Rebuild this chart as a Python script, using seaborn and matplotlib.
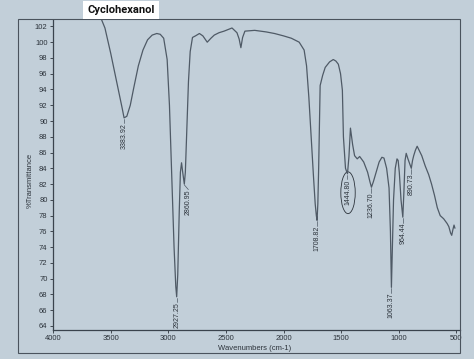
import matplotlib
matplotlib.use("Agg")
import matplotlib.pyplot as plt
from matplotlib.patches import Ellipse, Rectangle
import seaborn as sns
import pandas as pd

# ---- data, rows of 10 kept aligned ----
wavenumber = [
    3600, 3550, 3500, 3460, 3420, 3400, 3383.92, 3360, 3330, 3300,
    3260, 3220, 3180, 3140, 3100, 3070, 3040, 3010, 2990, 2970,
    2950, 2935, 2927.25, 2918, 2905, 2895, 2885, 2875, 2860.95, 2852,
    2840, 2825, 2810, 2790, 2764, 2730, 2700, 2662, 2630, 2601,
    2560, 2516, 2447, 2404, 2385, 2370, 2355, 2335, 2250, 2150,
    2078, 2000, 1932, 1864, 1821, 1800, 1780, 1760, 1740, 1725,
    1715, 1708.82, 1702, 1695, 1688, 1682, 1660, 1638, 1600, 1568,
    1545, 1524, 1505, 1489, 1480, 1462, 1444.80, 1432, 1419, 1400,
    1383, 1360, 1339, 1304, 1270, 1250, 1236.70, 1220, 1198, 1170,
    1146, 1128, 1105, 1084, 1072, 1063.37, 1055, 1045, 1030, 1015,
    1005, 995, 980, 964.44, 955, 945, 935, 920, 905, 890.73,
    880, 870, 855, 840, 800, 770, 740, 715, 690, 665,
    640, 610, 595, 580, 565, 550, 540, 530, 520, 512,
]
transmittance = [
    103.6, 101.8, 98.6, 95.8, 93.0, 91.6, 90.4, 90.6, 92.0, 94.2,
    97.0, 99.0, 100.3, 100.9, 101.1, 101.0, 100.5, 97.8, 92.0, 83.0,
    74.0, 69.0, 67.7, 70.5, 78.5, 83.5, 84.7, 83.5, 82.0, 83.5,
    88.5, 95.0, 98.8, 100.6, 100.8, 101.1, 100.8, 100.0, 100.5, 100.9,
    101.2, 101.4, 101.8, 101.2, 100.4, 99.3, 100.6, 101.4, 101.5, 101.3,
    101.1, 100.8, 100.5, 100.0, 99.0, 97.0, 93.0, 88.0, 83.0, 79.5,
    78.0, 77.4, 79.5, 84.0, 90.0, 94.5, 95.8, 96.8, 97.5, 97.8,
    97.6, 97.2, 96.0, 93.9, 88.0, 84.0, 83.3, 85.5, 89.1, 87.0,
    85.6, 85.2, 85.5, 84.8, 83.5, 82.3, 81.6, 82.3, 83.4, 84.8,
    85.4, 85.3, 84.0, 81.5, 76.0, 68.9, 74.0, 80.0, 84.0, 85.2,
    85.0, 83.5, 80.0, 77.8, 81.0, 85.0, 85.9, 85.2, 84.6, 84.0,
    85.0, 85.6, 86.3, 86.8, 85.6, 84.3, 83.2, 82.0, 80.6, 79.0,
    78.0, 77.6, 77.3, 77.0, 76.6, 75.8, 75.5, 76.2, 76.8, 76.4,
]

peak_positions = [3383.92, 2927.25, 2860.95, 1708.82, 1444.80, 1236.70, 1063.37, 964.44, 890.73]
peak_values = [90.4, 67.7, 82.0, 77.4, 83.3, 81.6, 68.9, 77.8, 84.0]
peak_labels = ["3383.92", "2927.25", "2860.95", "1708.82", "1444.80", "1236.70",
               "1063.37", "964.44", "890.73"]
label_shift = [0, 0, -35, 0, 0, 0, 0, 0, 0]

x_ticks = [4000, 3500, 3000, 2500, 2000, 1500, 1000, 500]
y_ticks = list(range(64, 103, 2))

title_text = "Cyclohexanol"
x_label = "Wavenumbers (cm-1)"
y_label = "%Transmittance"

# ---- style ----
bg = "#c2cfd9"
line_col = "#4f5a66"
text_col = "#2c333b"

sns.set_theme(style="ticks")
plt.rcParams["font.family"] = ["Liberation Sans", "DejaVu Sans"]

fig = plt.figure(figsize=(4.74, 3.59), dpi=100, facecolor=bg)
ax = fig.add_axes([0.112, 0.081, 0.858, 0.863])
ax.set_facecolor(bg)

df = pd.DataFrame({"wn": wavenumber, "T": transmittance})
sns.lineplot(data=df, x="wn", y="T", sort=False, estimator=None, ax=ax,
             color=line_col, linewidth=0.9)

ax.set_xlim(4000, 470)
ax.set_ylim(63.5, 102.8)
ax.set_xticks(x_ticks)
ax.set_xticklabels([str(t) for t in x_ticks])
ax.set_yticks(y_ticks)
ax.set_yticklabels([str(t) for t in y_ticks])
ax.tick_params(axis="both", labelsize=5.5, colors=text_col, length=2.5, width=0.6, pad=1.5)
ax.set_xlabel("")
ax.set_ylabel("")
for s in ["top", "right"]:
    ax.spines[s].set_visible(False)
for s in ["left", "bottom"]:
    ax.spines[s].set_color("#3a434d")
    ax.spines[s].set_linewidth(0.9)

# peak annotations
for px, pv, lab, dx in zip(peak_positions, peak_values, peak_labels, label_shift):
    tx = px + dx
    ax.plot([px, tx], [pv - 0.1, pv - 0.7], color=line_col, linewidth=0.5)
    ax.text(tx, pv - 0.7, lab, rotation=90, ha="center", va="top",
            fontsize=5, color=text_col)

ax.add_patch(Ellipse((1440, 80.9), width=125, height=5.3, fill=False,
                     edgecolor=text_col, linewidth=0.6))

# outer printed frame
fig.add_artist(Rectangle((18 / 474, 1 - 353 / 359), (460 - 18) / 474, (353 - 19) / 359,
                         transform=fig.transFigure, fill=False, edgecolor="#4a535d",
                         linewidth=0.8))

fig.text(30 / 474, 1 - 180 / 359, y_label, rotation=90, ha="center", va="center",
         fontsize=5.5, color=text_col)
fig.text(255 / 474, 1 - 348 / 359, x_label, ha="center", va="center",
         fontsize=5.5, color=text_col)

fig.text(121 / 474, 1 - 10 / 359, title_text, ha="center", va="center",
         fontsize=8, fontweight="bold", color="#111111", family=["Roboto", "DejaVu Sans"],
         bbox=dict(boxstyle="square,pad=0.35", facecolor="white", edgecolor="none"))

fig.savefig("out.png", dpi=100, facecolor=bg)
